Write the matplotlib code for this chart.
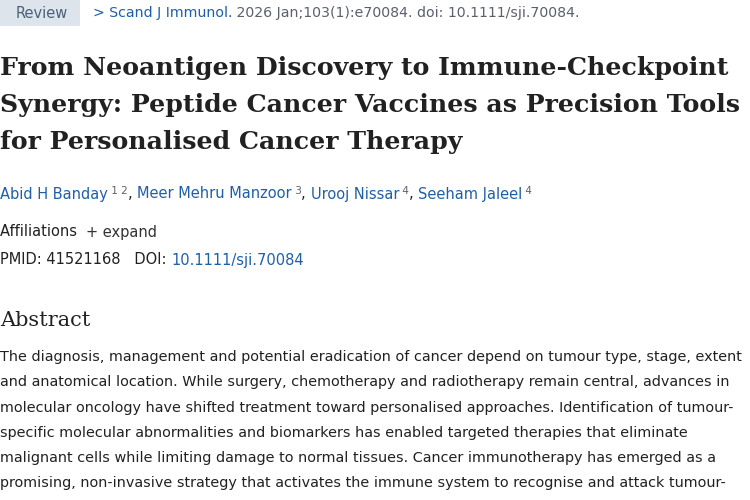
import matplotlib
matplotlib.use("Agg")
import matplotlib.pyplot as plt
from matplotlib.patches import Rectangle

W, H = 750, 500
BLUE = "#1f5fa8"
DARK = "#212121"
GREY = "#5b616b"

badge = "Review"
citation = [("> Scand J Immunol.", BLUE), (" 2026 Jan;103(1):e70084. doi: 10.1111/sji.70084.", GREY)]
title_lines = ["From Neoantigen Discovery to Immune-Checkpoint",
               "Synergy: Peptide Cancer Vaccines as Precision Tools",
               "for Personalised Cancer Therapy"]
authors = [("Abid H Banday", "1 2"), ("Meer Mehru Manzoor", "3"),
           ("Urooj Nissar", "4"), ("Seeham Jaleel", "4")]
pmid = "41521168"
doi = "10.1111/sji.70084"
abstract_lines = [
    "The diagnosis, management and potential eradication of cancer depend on tumour type, stage, extent",
    "and anatomical location. While surgery, chemotherapy and radiotherapy remain central, advances in",
    "molecular oncology have shifted treatment toward personalised approaches. Identification of tumour-",
    "specific molecular abnormalities and biomarkers has enabled targeted therapies that eliminate",
    "malignant cells while limiting damage to normal tissues. Cancer immunotherapy has emerged as a",
    "promising, non-invasive strategy that activates the immune system to recognise and attack tumour-",
]

fig = plt.figure(figsize=(7.5, 5), dpi=100)
fig.patch.set_facecolor("white")
r = fig.canvas.get_renderer()


def put(x, y, s, **kw):
    kw.setdefault("va", "center")
    t = fig.text(x / W, 1 - y / H, s, **kw)
    bb = t.get_window_extent(renderer=r)
    return x + bb.width


def run(x, y, parts):
    for s, kw in parts:
        x = put(x, y, s, **kw)
    return x


sans = dict(family="DejaVu Sans", fontsize=10.5)
cit = dict(family="DejaVu Sans", fontsize=10.2)

fig.add_artist(Rectangle((0, 1 - 26 / H), 80 / W, 26 / H,
                         transform=fig.transFigure, color="#dde4ec", lw=0))
put(16, 13, badge, color="#4a6179", **sans)
run(93, 13, [(s, dict(color=c, **cit)) for s, c in citation])

for i, line in enumerate(title_lines):
    put(0, 68 + i * 37, line, family="DejaVu Serif", fontweight="bold",
        fontsize=18.2, color=DARK)

parts = []
for i, (name, sup) in enumerate(authors):
    parts.append((name, dict(color=BLUE, **sans)))
    parts.append((" " + sup, dict(color=GREY, family="DejaVu Sans", fontsize=7.5, va="bottom")))
    if i < len(authors) - 1:
        parts.append((", ", dict(color=DARK, **sans)))
x = 0
for s, kw in parts:
    y = 196 if kw.get("va") == "bottom" else 194
    x = put(x, y, s, **kw)

run(0, 232, [("Affiliations  ", dict(color=DARK, **sans)),
             ("+ expand", dict(color="#333333", **sans))])
run(0, 260, [("PMID: " + pmid + "   DOI: ", dict(color=DARK, **sans)),
             (doi, dict(color=BLUE, **sans))])

put(0, 320, "Abstract", family="DejaVu Serif", fontsize=15, color=DARK)

for i, line in enumerate(abstract_lines):
    put(0, 357 + i * 25.3, line, family="DejaVu Sans", fontsize=10.4, color=DARK)

fig.savefig("out.png", dpi=100)
